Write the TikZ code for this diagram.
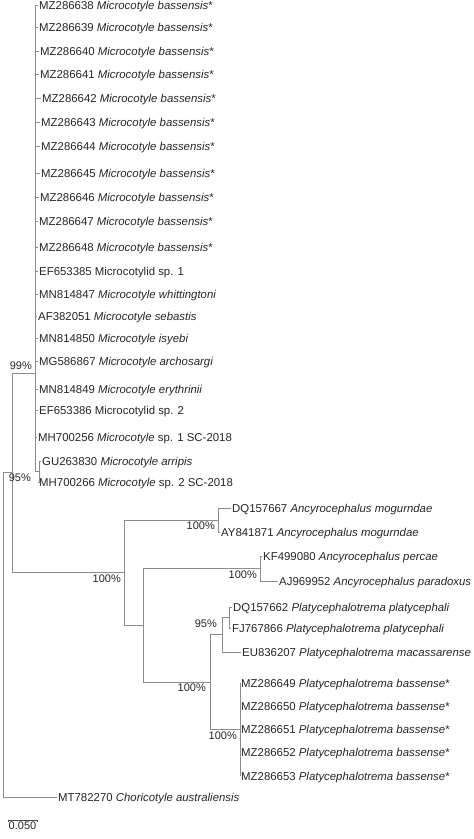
\documentclass[tikz,border=0pt]{standalone}
\usepackage{fontspec}
\setmainfont{Liberation Sans}
\usetikzlibrary{calc}
\tikzset{
  leaf/.style={anchor=west, inner sep=1pt, text height=8pt, text depth=0pt, font=\fontsize{11.4}{13}\selectfont, text=black!85},
  boot/.style={inner sep=1pt, font=\fontsize{11}{13}\selectfont, text=black!85},
  branch/.style={draw=black!45, line width=0.9pt},
}

\begin{document}
\begin{tikzpicture}[x=1pt, y=-1pt]
\useasboundingbox (0,0) rectangle (474,839);

\coordinate (root) at (3,634.9);
\coordinate (nA) at (12,472.8);
\coordinate (nMicro) at (35,373);
\coordinate (n95a) at (39,471.5);
\coordinate (nB) at (124,572.6);
\coordinate (nDQ) at (218,520);
\coordinate (nC) at (143,625.3);
\coordinate (nKF) at (260,568.5);
\coordinate (nD) at (210,682.1);
\coordinate (n95b) at (222,634.8);
\coordinate (nFJ) at (229,617.5);
\coordinate (nMZ) at (240,729.5);

\foreach \id/\tip/\y in {638/38/5, 639/38/27, 640/39/51, 641/39/74, 642/41/98, 643/40/122,
                          644/40/146, 645/40/173, 646/39/197, 647/38/221, 648/38/247}
  \node[name=mz\id, leaf] at (\tip,\y) {MZ286\id\ \textit{Microcotyle bassensis}*};
\node[name=ef385, leaf] at (38,271) {EF653385 Microcotylid sp. 1};
\node[name=mn847, leaf] at (38,294) {MN814847 \textit{Microcotyle whittingtoni}};
\node[name=af051, leaf] at (37,316) {AF382051 \textit{Microcotyle sebastis}};
\node[name=mn850, leaf] at (38,338) {MN814850 \textit{Microcotyle isyebi}};
\node[name=mg867, leaf] at (38,361) {MG586867 \textit{Microcotyle archosargi}};
\node[name=mn849, leaf] at (38,389) {MN814849 \textit{Microcotyle erythrinii}};
\node[name=ef386, leaf] at (38,410) {EF653386 Microcotylid sp. 2};
\node[name=mh256, leaf] at (37,437) {MH700256 \textit{Microcotyle} sp. 1 SC-2018};
\node[name=gu830, leaf] at (41,461) {GU263830 \textit{Microcotyle arripis}};
\node[name=mh266, leaf] at (38,482) {MH700266 \textit{Microcotyle} sp. 2 SC-2018};
\node[name=dq667, leaf] at (231,508) {DQ157667 \textit{Ancyrocephalus mogurndae}};
\node[name=ay871, leaf] at (220,532) {AY841871 \textit{Ancyrocephalus mogurndae}};
\node[name=kf080, leaf] at (262,556) {KF499080 \textit{Ancyrocephalus percae}};
\node[name=aj952, leaf] at (278,581) {AJ969952 \textit{Ancyrocephalus paradoxus}};
\node[name=dq662, leaf] at (232,607) {DQ157662 \textit{Platycephalotrema platycephali}};
\node[name=fj866, leaf] at (231,628) {FJ767866 \textit{Platycephalotrema platycephali}};
\node[name=eu207, leaf] at (241,652) {EU836207 \textit{Platycephalotrema macassarense}};
\foreach \id/\y in {649/683, 650/706, 651/729, 652/752, 653/776}
  \node[name=mz\id, leaf] at (240,\y) {MZ286\id\ \textit{Platycephalotrema bassense}*};
\node[name=mt270, leaf] at (57,797) {MT782270 \textit{Choricotyle australiensis}};

\draw[branch] (root) |- (nA);
\draw[branch] (root) |- (mt270.west);
\draw[branch] (nA) |- (nMicro);
\draw[branch] (nA) |- (nB);
\foreach \leaf in {mz638,mz639,mz640,mz641,mz642,mz643,mz644,mz645,mz646,mz647,mz648,
                   ef385,mn847,af051,mn850,mg867,mn849,ef386,mh256}
  \draw[branch] (nMicro) |- (\leaf.west);
\draw[branch] (nMicro) |- (n95a);
\draw[branch] (n95a) |- (gu830.west);
\draw[branch] (n95a) |- (mh266.west);
\draw[branch] (nB) |- (nDQ);
\draw[branch] (nB) |- (nC);
\draw[branch] (nDQ) |- (dq667.west);
\draw[branch] (nDQ) |- (ay871.west);
\draw[branch] (nC) |- (nKF);
\draw[branch] (nC) |- (nD);
\draw[branch] (nKF) |- (kf080.west);
\draw[branch] (nKF) |- (aj952.west);
\draw[branch] (nD) |- (n95b);
\draw[branch] (nD) |- (nMZ);
\draw[branch] (n95b) |- (nFJ);
\draw[branch] (n95b) |- (eu207.west);
\draw[branch] (nFJ) |- (dq662.west);
\draw[branch] (nFJ) |- (fj866.west);
\foreach \leaf in {mz649,mz650,mz651,mz652,mz653}
  \draw[branch] (nMZ) |- (\leaf.west);

\node[name=b_micro, boot, anchor=south east] at ([xshift=-2pt,yshift=2pt]nMicro) {99\%};
\node[name=b_95a, boot, anchor=north east] at ([xshift=-3pt,yshift=-1pt]nMicro|-n95a) {95\%};
\node[name=b_B, boot, anchor=north east] at ([xshift=-2pt,yshift=-1pt]nB) {100\%};
\node[name=b_DQ, boot, anchor=north east] at ([xshift=-2pt,yshift=-1pt]nDQ) {100\%};
\node[name=b_KF, boot, anchor=north east] at ([xshift=-2pt,yshift=-1pt]nKF) {100\%};
\node[name=b_95b, boot, anchor=north east] at ([xshift=-4pt,yshift=-1pt]nFJ-|n95b) {95\%};
\node[name=b_D, boot, anchor=north east] at ([xshift=-3pt,yshift=-1pt]nD) {100\%};
\node[name=b_MZ, boot, anchor=north east] at ([xshift=-2pt,yshift=-1pt]nMZ) {100\%};

\coordinate (sb0) at (8,820);
\coordinate (sb1) at (37,820);
\draw[black!70, line width=0.6pt] ([yshift=-1.5pt]sb0) -- (sb0) -- (sb1) -- ([yshift=-1.5pt]sb1);
\node[name=sbtext, boot, anchor=north] at ($(sb0)!0.5!(sb1)+(0,1)$) {0.050};
\end{tikzpicture}
\end{document}
